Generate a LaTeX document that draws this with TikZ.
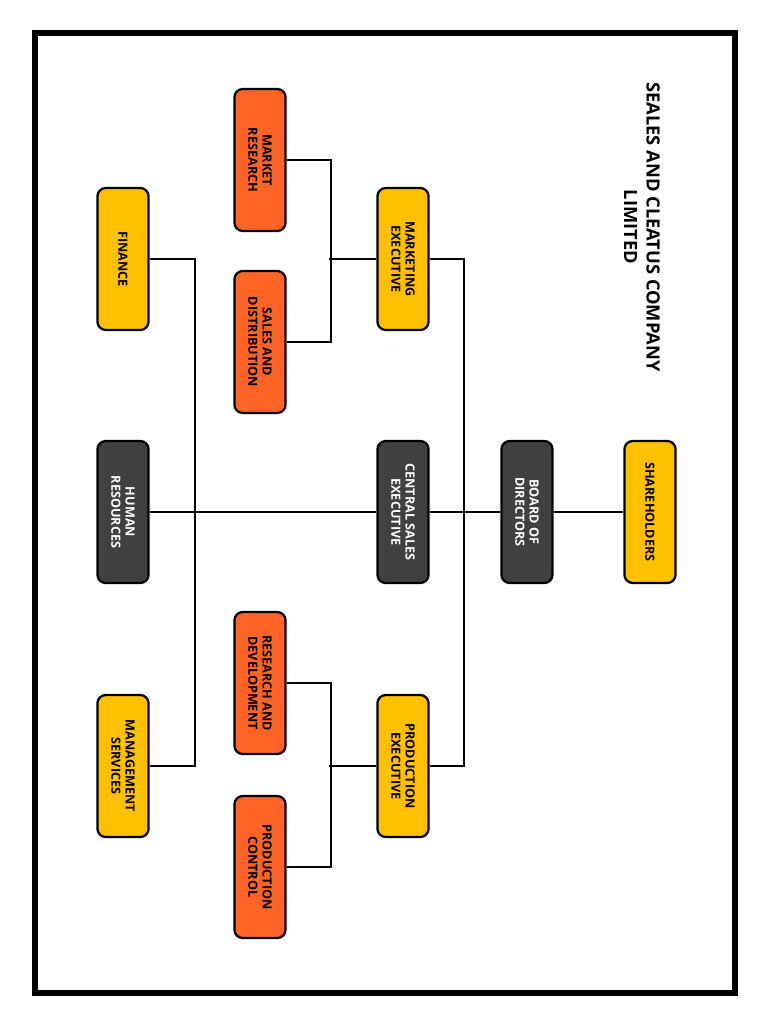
\documentclass[tikz,border=0pt]{standalone}
\usepackage{fontspec}
\setmainfont{Open Sans}
\definecolor{cyellow}{HTML}{FFC000}
\definecolor{corange}{HTML}{FF6326}
\definecolor{cdark}{HTML}{404040}
\begin{document}
\begin{tikzpicture}[x={(0.025cm,0)}, y={(0,-0.025cm)},
    every node/.style = {shape=rectangle, rounded corners=6pt, rotate=-90,
    draw, line width=1.6pt, align=center, minimum width=3.55cm,
    minimum height=1.28cm, font=\bfseries\fontsize{9}{10}\selectfont},
    cyell/.style={fill=cyellow},
    corng/.style={fill=corange},
    cdrk/.style={fill=cdark, text=white},
    link/.style={line width=1.6pt}]
    \useasboundingbox (0,0) rectangle (768,1024);
    \draw[line width=4.5pt] (35,33) rectangle (735,993);
    \node[draw=none, rounded corners=0pt, font=\bfseries\fontsize{13}{16}\selectfont] (title) at (642,227) {SEALES AND CLEATUS COMPANY\\LIMITED};
    \node[cyell] (sh) at (650,512) {SHAREHOLDERS};
    \node[cdrk] (bod) at (527,512) {BOARD OF\\DIRECTORS};
    \node[cdrk] (cse) at (403,512) {CENTRAL SALES\\EXECUTIVE};
    \node[cdrk] (hr) at (123,512) {HUMAN\\RESOURCES};
    \node[cyell] (mkt) at (403,259) {MARKETING\\EXECUTIVE};
    \node[cyell] (prod) at (403,766) {PRODUCTION\\EXECUTIVE};
    \node[cyell] (fin) at (123,259) {FINANCE};
    \node[cyell] (mgmt) at (123,766) {MANAGEMENT\\SERVICES};
    \node[corng] (mr) at (260,160) {MARKET\\RESEARCH};
    \node[corng] (sd) at (260,342) {SALES AND\\DISTRIBUTION};
    \node[corng] (rd) at (260,683) {RESEARCH AND\\DEVELOPMENT};
    \node[corng] (pc) at (260,867) {PRODUCTION\\CONTROL};
    \draw[link] (bod.north) -- (sh.south);
    \draw[link] (hr.north) -- (cse.south);
    \draw[link] (cse.north) -- (bod.south);
    \draw[link] (mkt.north) -- ++(34,0) |- (prod.north);
    \draw[link] (fin.north) -- ++(45,0) |- (mgmt.north);
    \draw[link] (mr.north) -- ++(44,0) |- (sd.north);
    \draw[link] (mkt.south) -- ++(-47,0);
    \draw[link] (rd.north) -- ++(44,0) |- (pc.north);
    \draw[link] (prod.south) -- ++(-47,0);
\end{tikzpicture}
\end{document}
